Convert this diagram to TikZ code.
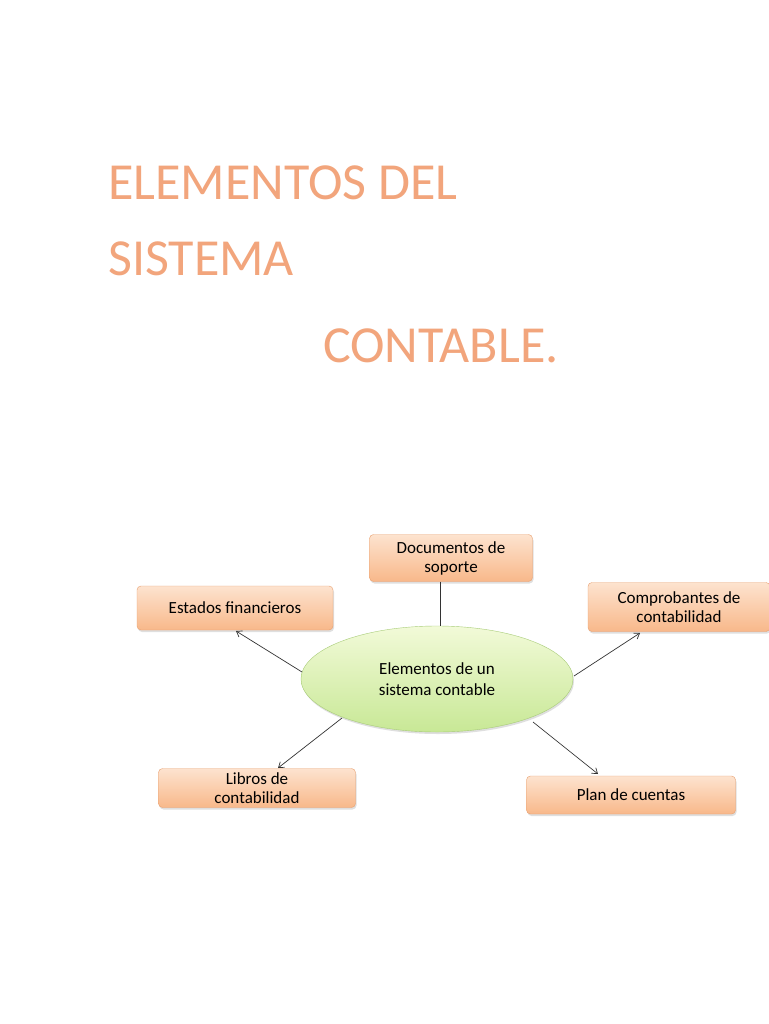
\documentclass[tikz,border=0pt]{standalone}
\usepackage{fontspec}
\setmainfont{Carlito}
\usetikzlibrary{shapes.geometric,arrows.meta,shadows}
\definecolor{ttl}{HTML}{F2A57C}
\definecolor{boxtop}{HTML}{FDE3CF}
\definecolor{boxbot}{HTML}{F8B88A}
\definecolor{boxline}{HTML}{E8A070}
\definecolor{elltop}{HTML}{F2FAD8}
\definecolor{ellbot}{HTML}{C8E896}
\definecolor{ellline}{HTML}{A8CC78}
\tikzset{
  x=1pt,y=-1pt,
  ttltext/.style={anchor=base west,text=ttl,font=\fontsize{52}{60}\selectfont,inner sep=0},
  rbox/.style={draw=boxline,rounded corners=4pt,top color=boxtop,bottom color=boxbot,
    align=center,font=\fontsize{17}{19}\selectfont,inner sep=0,drop shadow={opacity=0.25,shadow xshift=1pt,shadow yshift=-2pt}},
  conn/.style={draw=black!80,line width=0.7pt,-{Straight Barb[length=5pt,width=7pt]}}
}
\begin{document}
\begin{tikzpicture}
\useasboundingbox (0,0) rectangle (768,1024);
\fill[white] (0,0) rectangle (768,1024);
\node[ttltext] (t1) at (108,200) {ELEMENTOS DEL};
\node[ttltext] (t2) at (108,275) {SISTEMA};
\node[ttltext] (t3) at (323,362) {CONTABLE.};
\node[rbox,minimum width=163pt,minimum height=47pt] (doc) at (451,558) {Documentos de\\soporte};
\node[rbox,minimum width=196pt,minimum height=44pt] (est) at (235,608) {Estados financieros};
\node[rbox,minimum width=182pt,minimum height=49pt] (com) at (679,607) {Comprobantes de\\contabilidad};
\node[rbox,minimum width=197pt,minimum height=39pt] (lib) at (257,788) {Libros de\\contabilidad};
\node[rbox,minimum width=209pt,minimum height=38pt] (pla) at (631,795) {Plan de cuentas};
\node[ellipse,draw=ellline,top color=elltop,bottom color=ellbot,minimum width=272pt,minimum height=106pt,
  align=center,font=\fontsize{17}{21}\selectfont,inner sep=0,drop shadow={opacity=0.25,shadow xshift=1pt,shadow yshift=-2pt}] (ell) at (437,679) {Elementos de un\\sistema contable};
\draw[black!80,line width=0.7pt] (doc.south -| 440,0) -- (440,626);
\coordinate (e1) at (302,672); \coordinate (e2) at (574,676);
\coordinate (e3) at (342,718); \coordinate (e4) at (533,722);
\draw[conn] (e1) -- (236,631);
\draw[conn] (e2) -- (640,633);
\draw[conn] (e3) -- (278,768);
\draw[conn] (e4) -- (598,774);
\end{tikzpicture}
\end{document}
